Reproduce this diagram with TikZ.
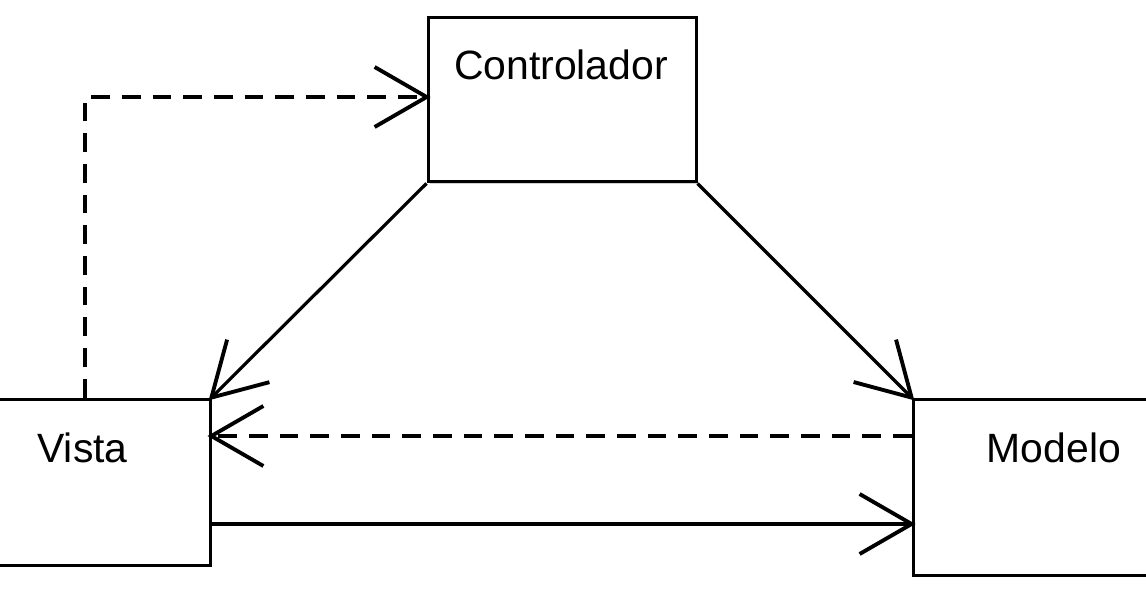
\documentclass[tikz,border=0pt]{standalone}
\usepackage{fontspec}
\setmainfont{Liberation Sans}
\usetikzlibrary{arrows.meta,calc,shadows}
\begin{document}
\begin{tikzpicture}[x=0.75pt,y=-0.75pt,
  box/.style={draw=black,fill=white,line width=2.25pt,inner sep=0pt,
    drop shadow={shadow xshift=1.5pt,shadow yshift=-1.5pt,fill=black,opacity=0.18}},
  lbl/.style={anchor=base,inner sep=0pt,font=\fontsize{30.7}{36}\selectfont},
  conn/.style={line width=2.4pt,shorten >=-3pt,-{Straight Barb[length=39pt,width=45pt,line width=2.9pt]}},
  dashline/.style={dash pattern=on 14pt off 9pt}]
\useasboundingbox (0,0) rectangle (1146,602);
\clip (0,0) rectangle (1146,602);
\node[box,minimum width=201pt,minimum height=123pt] (ctrl) at (562,100) {};
\node[box,minimum width=191.25pt,minimum height=124.5pt] (vista) at (82.5,482) {};
\node[box,minimum width=211.5pt,minimum height=132pt] (modelo) at (1054,487) {};
\node[lbl] (tctrl) at (561,80) {Controlador};
\node[lbl] (tvista) at (82.5,462) {Vista};
\node[lbl] (tmodelo) at (1054,462) {Modelo};
\coordinate (vtop) at ($(vista.north)+(2.5,0)$);
\draw[conn,dashline] (vtop) |- ($(ctrl.west)+(0,-3)$);
\draw[conn] (ctrl.south west) -- (vista.north east);
\draw[conn] (ctrl.south east) -- (modelo.north west);
\draw[conn,dashline] (modelo.west |- 0,436) -- (vista.east |- 0,436);
\draw[conn] (vista.east |- 0,524) -- (modelo.west |- 0,524);
\end{tikzpicture}
\end{document}
